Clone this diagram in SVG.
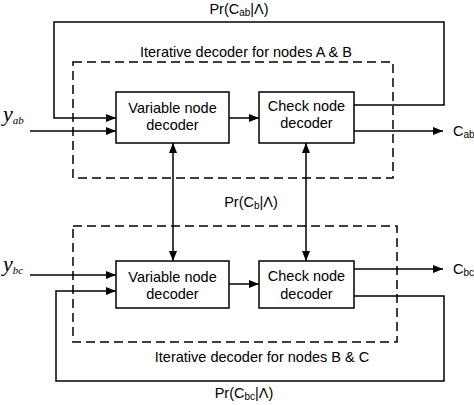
<svg xmlns="http://www.w3.org/2000/svg" width="474" height="405" viewBox="0 0 474 405">
<style>
.box{fill:#fff;stroke:#000;stroke-width:1.5}
.dash{fill:none;stroke:#000;stroke-width:1.5;stroke-dasharray:9 5}
.ln{fill:none;stroke:#000;stroke-width:1.5}
.arr{marker-end:url(#ah)}
.bi{marker-end:url(#ah);marker-start:url(#ah)}
text{font-family:"Liberation Sans",Arial,sans-serif;font-size:14.5px;fill:#000}
.c{text-anchor:middle}
.sub{font-size:10px}
text.it{font-family:"Liberation Serif","Times New Roman",serif;font-style:italic;font-size:22px}
.it .sub{font-size:11px}
</style>
<defs>
<marker id="ah" markerUnits="userSpaceOnUse" markerWidth="11" markerHeight="9" refX="10" refY="4" orient="auto-start-reverse">
<path d="M0,0 L10,4 L0,8 z" fill="#000"/>
</marker>
</defs>
<g id="frames">
<rect class="dash" x="73" y="62" width="320" height="116"/>
<rect class="dash" x="73" y="226" width="324" height="116"/>
<text class="c" x="246" y="57">Iterative decoder for nodes A &amp; B</text>
<text class="c" x="262" y="362">Iterative decoder for nodes B &amp; C</text>
</g>
<g id="connectors">
<polyline class="ln arr" points="354,105 444,105 444,22 54,22 54,118 116,118"/>
<line class="ln arr" x1="30" y1="131" x2="116" y2="131"/>
<line class="ln arr" x1="229" y1="118" x2="259" y2="118"/>
<line class="ln arr" x1="354" y1="131" x2="443" y2="131"/>
<line class="ln bi" x1="173" y1="143" x2="173" y2="261"/>
<line class="ln bi" x1="306" y1="143" x2="306" y2="261"/>
<line class="ln arr" x1="30" y1="275" x2="116" y2="275"/>
<polyline class="ln arr" points="354,296 444,296 444,381 56,381 56,291 116,291"/>
<line class="ln arr" x1="229" y1="284" x2="259" y2="284"/>
<line class="ln arr" x1="354" y1="269" x2="443" y2="269"/>
</g>
<g id="labels">
<text class="c" x="239" y="14">Pr(C<tspan class="sub" dy="2">ab</tspan><tspan dy="-2">|Λ)</tspan></text>
<text class="c" x="251" y="207">Pr(C<tspan class="sub" dy="2">b</tspan><tspan dy="-2">|Λ)</tspan></text>
<text class="c" x="244" y="398">Pr(C<tspan class="sub" dy="2">bc</tspan><tspan dy="-2">|Λ)</tspan></text>
<text x="453" y="136">C<tspan class="sub" dy="2">ab</tspan></text>
<text x="453" y="274">C<tspan class="sub" dy="2">bc</tspan></text>
<text class="it" x="3" y="121">y<tspan class="sub" dy="3">ab</tspan></text>
<text class="it" x="3" y="271">y<tspan class="sub" dy="3">bc</tspan></text>
</g>
<g id="var-ab">
<rect class="box" x="116" y="92" width="113" height="51"/>
<text class="c" x="172.5" y="113">Variable node</text>
<text class="c" x="172.5" y="130">decoder</text>
</g>
<g id="check-ab">
<rect class="box" x="259" y="92" width="95" height="51"/>
<text class="c" x="306.5" y="111">Check node</text>
<text class="c" x="306.5" y="128">decoder</text>
</g>
<g id="var-bc">
<rect class="box" x="116" y="261" width="113" height="47"/>
<text class="c" x="172.5" y="282">Variable node</text>
<text class="c" x="172.5" y="299">decoder</text>
</g>
<g id="check-bc">
<rect class="box" x="259" y="261" width="95" height="47"/>
<text class="c" x="306.5" y="281">Check node</text>
<text class="c" x="306.5" y="299">decoder</text>
</g>
</svg>
